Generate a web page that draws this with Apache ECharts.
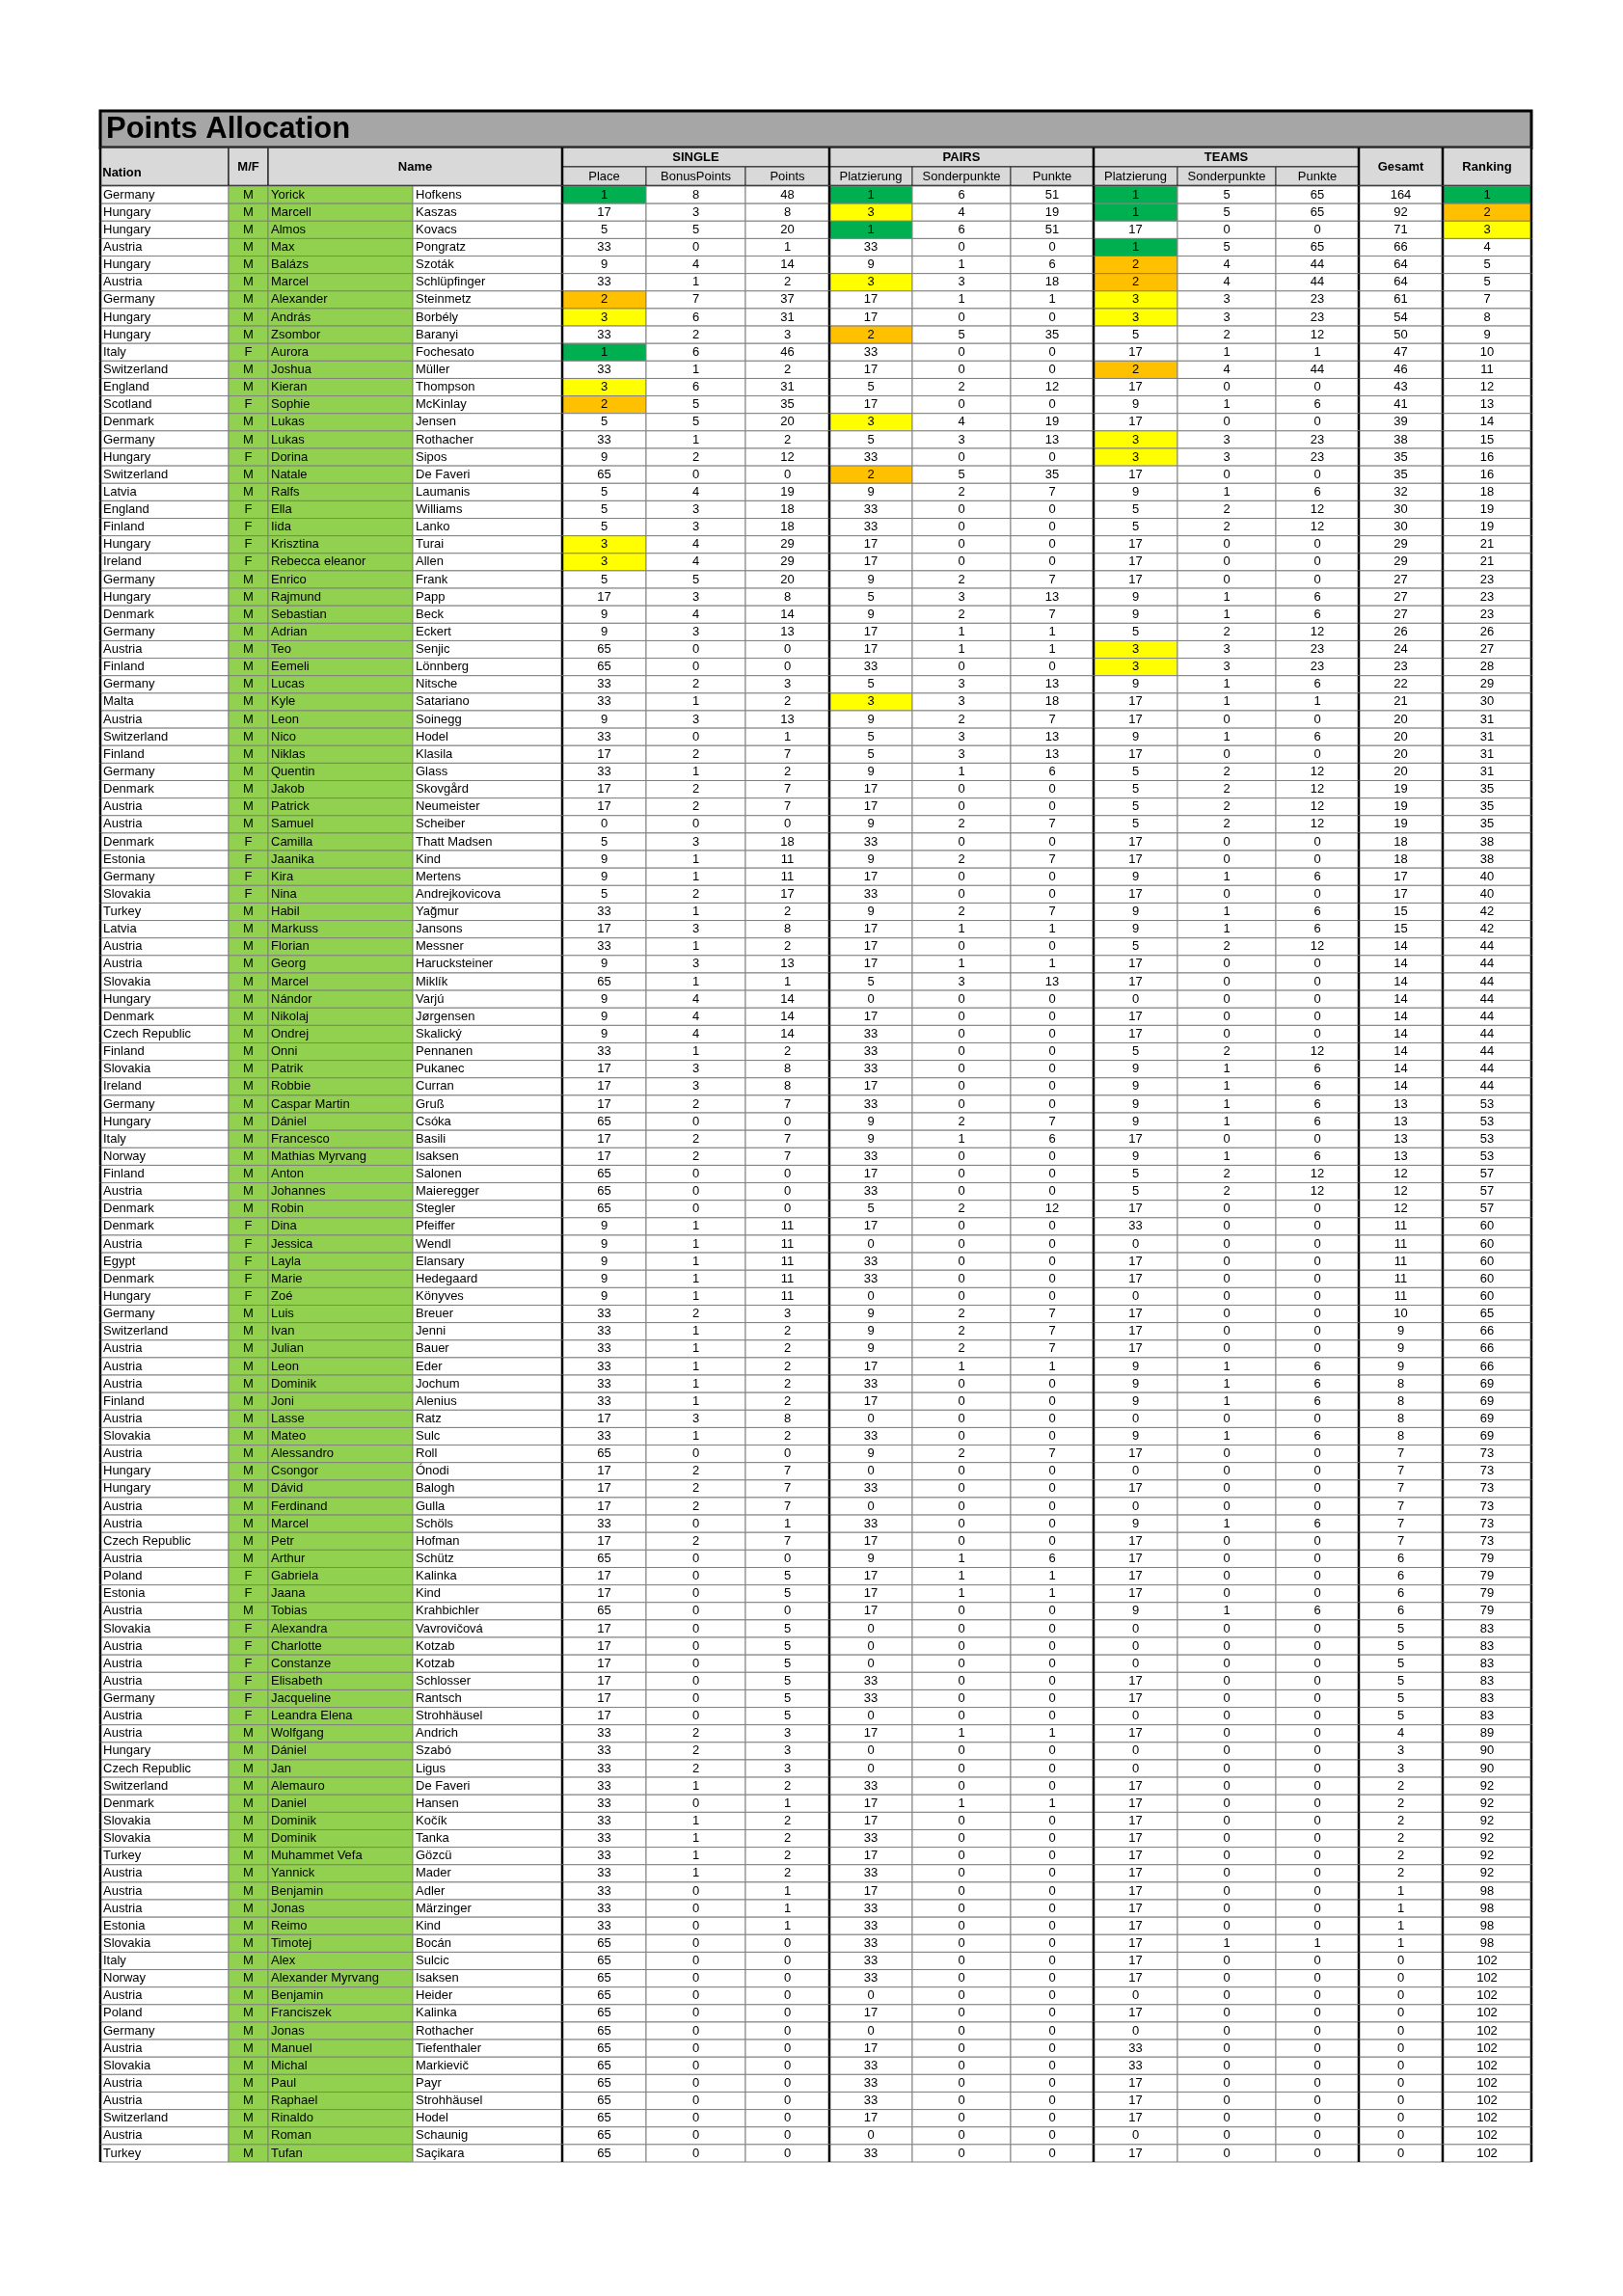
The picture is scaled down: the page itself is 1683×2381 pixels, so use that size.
<!DOCTYPE html>
<html>
<head>
<meta charset="utf-8">
<script src="https://cdn.jsdelivr.net/npm/echarts@6/dist/echarts.min.js"></script>
<style>
  html, body { margin: 0; padding: 0; background: #fff; }
  #chart { width: 1683px; height: 2381px; }
</style>
</head>
<body>
<div id="chart"></div>
<script>
// ---- data ----
var nations = ["Germany","Hungary","Hungary","Austria","Hungary","Austria","Germany","Hungary","Hungary","Italy",
  "Switzerland","England","Scotland","Denmark","Germany","Hungary","Switzerland","Latvia","England","Finland",
  "Hungary","Ireland","Germany","Hungary","Denmark","Germany","Austria","Finland","Germany","Malta",
  "Austria","Switzerland","Finland","Germany","Denmark","Austria","Austria","Denmark","Estonia","Germany",
  "Slovakia","Turkey","Latvia","Austria","Austria","Slovakia","Hungary","Denmark","Czech Republic","Finland",
  "Slovakia","Ireland","Germany","Hungary","Italy","Norway","Finland","Austria","Denmark","Denmark",
  "Austria","Egypt","Denmark","Hungary","Germany","Switzerland","Austria","Austria","Austria","Finland",
  "Austria","Slovakia","Austria","Hungary","Hungary","Austria","Austria","Czech Republic","Austria","Poland",
  "Estonia","Austria","Slovakia","Austria","Austria","Austria","Germany","Austria","Austria","Hungary",
  "Czech Republic","Switzerland","Denmark","Slovakia","Slovakia","Turkey","Austria","Austria","Austria","Estonia",
  "Slovakia","Italy","Norway","Austria","Poland","Germany","Austria","Slovakia","Austria","Austria",
  "Switzerland","Austria","Turkey"];
var sexes = ("MMMMMMMMMFMMFMMFMMFFFFMMMMMMMMMMMMMMMFFFFMMMMMMMMMMMMMMMMMMFFFFF" +
  "MMMMMMMMMMMMMMMFFMFFFFFFMMMMMMMMMMMMMMMMMMMMMMMMM").split("");
var firstNames = ["Yorick","Marcell","Almos","Max","Balázs","Marcel","Alexander","András","Zsombor","Aurora",
  "Joshua","Kieran","Sophie","Lukas","Lukas","Dorina","Natale","Ralfs","Ella","Iida",
  "Krisztina","Rebecca eleanor","Enrico","Rajmund","Sebastian","Adrian","Teo","Eemeli","Lucas","Kyle",
  "Leon","Nico","Niklas","Quentin","Jakob","Patrick","Samuel","Camilla","Jaanika","Kira",
  "Nina","Habil","Markuss","Florian","Georg","Marcel","Nándor","Nikolaj","Ondrej","Onni",
  "Patrik","Robbie","Caspar Martin","Dániel","Francesco","Mathias Myrvang","Anton","Johannes","Robin","Dina",
  "Jessica","Layla","Marie","Zoé","Luis","Ivan","Julian","Leon","Dominik","Joni",
  "Lasse","Mateo","Alessandro","Csongor","Dávid","Ferdinand","Marcel","Petr","Arthur","Gabriela",
  "Jaana","Tobias","Alexandra","Charlotte","Constanze","Elisabeth","Jacqueline","Leandra Elena","Wolfgang","Dániel",
  "Jan","Alemauro","Daniel","Dominik","Dominik","Muhammet Vefa","Yannick","Benjamin","Jonas","Reimo",
  "Timotej","Alex","Alexander Myrvang","Benjamin","Franciszek","Jonas","Manuel","Michal","Paul","Raphael",
  "Rinaldo","Roman","Tufan"];
var lastNames = ["Hofkens","Kaszas","Kovacs","Pongratz","Szoták","Schlüpfinger","Steinmetz","Borbély","Baranyi","Fochesato",
  "Müller","Thompson","McKinlay","Jensen","Rothacher","Sipos","De Faveri","Laumanis","Williams","Lanko",
  "Turai","Allen","Frank","Papp","Beck","Eckert","Senjic","Lönnberg","Nitsche","Satariano",
  "Soinegg","Hodel","Klasila","Glass","Skovgård","Neumeister","Scheiber","Thatt Madsen","Kind","Mertens",
  "Andrejkovicova","Yağmur","Jansons","Messner","Harucksteiner","Miklík","Varjú","Jørgensen","Skalický","Pennanen",
  "Pukanec","Curran","Gruß","Csóka","Basili","Isaksen","Salonen","Maieregger","Stegler","Pfeiffer",
  "Wendl","Elansary","Hedegaard","Könyves","Breuer","Jenni","Bauer","Eder","Jochum","Alenius",
  "Ratz","Sulc","Roll","Ónodi","Balogh","Gulla","Schöls","Hofman","Schütz","Kalinka",
  "Kind","Krahbichler","Vavrovičová","Kotzab","Kotzab","Schlosser","Rantsch","Strohhäusel","Andrich","Szabó",
  "Ligus","De Faveri","Hansen","Kočík","Tanka","Gözcü","Mader","Adler","Märzinger","Kind",
  "Bocán","Sulcic","Isaksen","Heider","Kalinka","Rothacher","Tiefenthaler","Markievič","Payr","Strohhäusel",
  "Hodel","Schaunig","Saçikara"];

var singlePlace = [1,17,5,33,9,33,2,3,33,1, 33,3,2,5,33,9,65,5,5,5, 3,3,5,17,9,9,65,65,33,33,
  9,33,17,33,17,17,0,5,9,9, 5,33,17,33,9,65,9,9,9,33, 17,17,17,65,17,17,65,65,65,9,
  9,9,9,9,33,33,33,33,33,33, 17,33,65,17,17,17,33,17,65,17, 17,65,17,17,17,17,17,17,33,33,
  33,33,33,33,33,33,33,33,33,33, 65,65,65,65,65,65,65,65,65,65, 65,65,65];
var singleBonus = [8,3,5,0,4,1,7,6,2,6, 1,6,5,5,1,2,0,4,3,3, 4,4,5,3,4,3,0,0,2,1,
  3,0,2,1,2,2,0,3,1,1, 2,1,3,1,3,1,4,4,4,1, 3,3,2,0,2,2,0,0,0,1,
  1,1,1,1,2,1,1,1,1,1, 3,1,0,2,2,2,0,2,0,0, 0,0,0,0,0,0,0,0,2,2,
  2,1,0,1,1,1,1,0,0,0, 0,0,0,0,0,0,0,0,0,0, 0,0,0];
var singlePoints = [48,8,20,1,14,2,37,31,3,46, 2,31,35,20,2,12,0,19,18,18, 29,29,20,8,14,13,0,0,3,2,
  13,1,7,2,7,7,0,18,11,11, 17,2,8,2,13,1,14,14,14,2, 8,8,7,0,7,7,0,0,0,11,
  11,11,11,11,3,2,2,2,2,2, 8,2,0,7,7,7,1,7,0,5, 5,0,5,5,5,5,5,5,3,3,
  3,2,1,2,2,2,2,1,1,1, 0,0,0,0,0,0,0,0,0,0, 0,0,0];
var pairsPlace = [1,3,1,33,9,3,17,17,2,33, 17,5,17,3,5,33,2,9,33,33, 17,17,9,5,9,17,17,33,5,3,
  9,5,5,9,17,17,9,33,9,17, 33,9,17,17,17,5,0,17,33,33, 33,17,33,9,9,33,17,33,5,17,
  0,33,33,0,9,9,9,17,33,17, 0,33,9,0,33,0,33,17,9,17, 17,17,0,0,0,33,33,0,17,0,
  0,33,17,17,33,17,33,17,33,33, 33,33,33,0,17,0,17,33,33,33, 17,0,33];
var pairsBonus = [6,4,6,0,1,3,1,0,5,0, 0,2,0,4,3,0,5,2,0,0, 0,0,2,3,2,1,1,0,3,3,
  2,3,3,1,0,0,2,0,2,0, 0,2,1,0,1,3,0,0,0,0, 0,0,0,2,1,0,0,0,2,0,
  0,0,0,0,2,2,2,1,0,0, 0,0,2,0,0,0,0,0,1,1, 1,0,0,0,0,0,0,0,1,0,
  0,0,1,0,0,0,0,0,0,0, 0,0,0,0,0,0,0,0,0,0, 0,0,0];
var pairsPoints = [51,19,51,0,6,18,1,0,35,0, 0,12,0,19,13,0,35,7,0,0, 0,0,7,13,7,1,1,0,13,18,
  7,13,13,6,0,0,7,0,7,0, 0,7,1,0,1,13,0,0,0,0, 0,0,0,7,6,0,0,0,12,0,
  0,0,0,0,7,7,7,1,0,0, 0,0,7,0,0,0,0,0,6,1, 1,0,0,0,0,0,0,0,1,0,
  0,0,1,0,0,0,0,0,0,0, 0,0,0,0,0,0,0,0,0,0, 0,0,0];
var teamsPlace = [1,1,17,1,2,2,3,3,5,17, 2,17,9,17,3,3,17,9,5,5, 17,17,17,9,9,5,3,3,9,17,
  17,9,17,5,5,5,5,17,17,9, 17,9,9,5,17,17,0,17,17,5, 9,9,9,9,17,9,5,5,17,33,
  0,17,17,0,17,17,17,9,9,9, 0,9,17,0,17,0,9,17,17,17, 17,9,0,0,0,17,17,0,17,0,
  0,17,17,17,17,17,17,17,17,17, 17,17,17,0,17,0,33,33,17,17, 17,0,17];
var teamsBonus = [5,5,0,5,4,4,3,3,2,1, 4,0,1,0,3,3,0,1,2,2, 0,0,0,1,1,2,3,3,1,1,
  0,1,0,2,2,2,2,0,0,1, 0,1,1,2,0,0,0,0,0,2, 1,1,1,1,0,1,2,2,0,0,
  0,0,0,0,0,0,0,1,1,1, 0,1,0,0,0,0,1,0,0,0, 0,1,0,0,0,0,0,0,0,0,
  0,0,0,0,0,0,0,0,0,0, 1,0,0,0,0,0,0,0,0,0, 0,0,0];
var teamsPoints = [65,65,0,65,44,44,23,23,12,1, 44,0,6,0,23,23,0,6,12,12, 0,0,0,6,6,12,23,23,6,1,
  0,6,0,12,12,12,12,0,0,6, 0,6,6,12,0,0,0,0,0,12, 6,6,6,6,0,6,12,12,0,0,
  0,0,0,0,0,0,0,6,6,6, 0,6,0,0,0,0,6,0,0,0, 0,6,0,0,0,0,0,0,0,0,
  0,0,0,0,0,0,0,0,0,0, 1,0,0,0,0,0,0,0,0,0, 0,0,0];
var totals = [164,92,71,66,64,64,61,54,50,47, 46,43,41,39,38,35,35,32,30,30, 29,29,27,27,27,26,24,23,22,21,
  20,20,20,20,19,19,19,18,18,17, 17,15,15,14,14,14,14,14,14,14, 14,14,13,13,13,13,12,12,12,11,
  11,11,11,11,10,9,9,9,8,8, 8,8,7,7,7,7,7,7,6,6, 6,6,5,5,5,5,5,5,4,3,
  3,2,2,2,2,2,2,1,1,1, 1,0,0,0,0,0,0,0,0,0, 0,0,0];
var ranking = [1,2,3,4,5,5,7,8,9,10, 11,12,13,14,15,16,16,18,19,19, 21,21,23,23,23,26,27,28,29,30,
  31,31,31,31,35,35,35,38,38,40, 40,42,42,44,44,44,44,44,44,44, 44,44,53,53,53,53,57,57,57,60,
  60,60,60,60,65,66,66,66,69,69, 69,69,73,73,73,73,73,73,79,79, 79,79,83,83,83,83,83,83,89,90,
  90,92,92,92,92,92,92,98,98,98, 98,102,102,102,102,102,102,102,102,102, 102,102,102];

// ---- layout ----
var LEFT = 104, TOP = 193, WIDTH = 1484, HEIGHT = 2049;
var edges = [0, 133, 174, 324, 479, 566, 669, 756, 842, 944, 1030, 1117, 1219, 1305, 1392, 1484];
var thickEdges = [0, 479, 756, 1030, 1305, 1392, 1484];
var FONT = '"Liberation Sans", Arial, sans-serif';
var placeColors = { 1: '#00b050', 2: '#ffc000', 3: '#ffff00' };

function rankFill(v) { return placeColors[v] || '#ffffff'; }
function plain() { return '#ffffff'; }
function green() { return '#92d050'; }

var columns = [
  { data: nations, align: 'left', fill: plain },
  { data: sexes, align: 'center', fill: green },
  { data: firstNames, align: 'left', fill: green },
  { data: lastNames, align: 'left', fill: plain },
  { data: singlePlace, align: 'center', fill: rankFill },
  { data: singleBonus, align: 'center', fill: plain },
  { data: singlePoints, align: 'center', fill: plain },
  { data: pairsPlace, align: 'center', fill: rankFill },
  { data: pairsBonus, align: 'center', fill: plain },
  { data: pairsPoints, align: 'center', fill: plain },
  { data: teamsPlace, align: 'center', fill: rankFill },
  { data: teamsBonus, align: 'center', fill: plain },
  { data: teamsPoints, align: 'center', fill: plain },
  { data: totals, align: 'center', fill: plain },
  { data: ranking, align: 'center', fill: rankFill }
];

var rowIdx = nations.map(function (n, i) { return [0, i]; });

function renderRow(params, api) {
  var r = api.value(1);
  var c = api.coord([0, r]);
  var h = api.size([0, 1])[1];
  var y0 = c[1] - h / 2;
  var kids = [];
  columns.forEach(function (col, k) {
    var x0 = api.coord([edges[k], r])[0];
    var x1 = api.coord([edges[k + 1], r])[0];
    var v = col.data[r];
    kids.push({
      type: 'rect',
      shape: { x: x0, y: y0, width: x1 - x0, height: h },
      style: { fill: col.fill(v), stroke: '#808080', lineWidth: 1 }
    });
    kids.push({
      type: 'text',
      style: {
        text: String(v),
        x: col.align === 'left' ? x0 + 3 : (x0 + x1) / 2,
        y: c[1],
        align: col.align, verticalAlign: 'middle',
        font: '13px ' + FONT, fill: '#000'
      }
    });
  });
  thickEdges.forEach(function (e) {
    var x = api.coord([e, r])[0];
    kids.push({
      type: 'line',
      shape: { x1: x, y1: y0, x2: x, y2: y0 + h },
      style: { stroke: '#000', lineWidth: 2.5 }
    });
  });
  return { type: 'group', children: kids };
}

// header cells (layout only)
function hcell(x0, x1, y0, y1, text, opts) {
  opts = opts || {};
  return {
    type: 'rect',
    shape: { x: LEFT + x0, y: y0, width: x1 - x0, height: y1 - y0 },
    style: { fill: opts.fill || '#d9d9d9', stroke: '#333', lineWidth: opts.lw || 1.5 },
    textContent: {
      style: {
        text: text,
        font: (opts.bold === false ? '' : 'bold ') + (opts.size || 13) + 'px ' + FONT,
        fill: '#000'
      }
    },
    textConfig: { position: opts.pos || 'inside' }
  };
}

var H0 = 153, H1 = 173, H2 = 193;
var graphics = [
  {
    type: 'rect',
    shape: { x: LEFT, y: 115, width: WIDTH, height: H0 - 115 },
    style: { fill: '#a6a6a6', stroke: '#000', lineWidth: 3 }
  },
  {
    type: 'text',
    style: { text: 'Points Allocation', x: LEFT + 6, y: 134, verticalAlign: 'middle',
      font: 'bold 31px ' + FONT, fill: '#000' }
  },
  hcell(0, 133, H0, H2, 'Nation', { pos: ['3', '50%'] }),
  hcell(133, 174, H0, H2, 'M/F'),
  hcell(174, 479, H0, H2, 'Name'),
  hcell(479, 756, H0, H1, 'SINGLE'),
  hcell(756, 1030, H0, H1, 'PAIRS'),
  hcell(1030, 1305, H0, H1, 'TEAMS'),
  hcell(1305, 1392, H0, H2, 'Gesamt'),
  hcell(1392, 1484, H0, H2, 'Ranking')
];
['Place', 'BonusPoints', 'Points', 'Platzierung', 'Sonderpunkte', 'Punkte',
 'Platzierung', 'Sonderpunkte', 'Punkte'].forEach(function (t, i) {
  graphics.push(hcell(edges[4 + i], edges[5 + i], H1, H2, t, { bold: false, lw: 1 }));
});
// section outlines in header
[0, 479, 756, 1030, 1305, 1392, 1484].forEach(function (e) {
  graphics.push({ type: 'line', shape: { x1: LEFT + e, y1: H0, x2: LEFT + e, y2: H2 },
    style: { stroke: '#000', lineWidth: 2.5 } });
});
graphics.push({ type: 'line', shape: { x1: LEFT, y1: H2, x2: LEFT + WIDTH, y2: H2 },
  style: { stroke: '#000', lineWidth: 2.5 } });

var chart = echarts.init(document.getElementById('chart'), null, { renderer: 'canvas' });
chart.setOption({
  backgroundColor: '#ffffff',
  animation: false,
  grid: { left: LEFT, top: TOP, width: WIDTH, height: HEIGHT },
  xAxis: { type: 'value', min: 0, max: 1484, show: false },
  yAxis: { type: 'category', inverse: true, show: false,
    data: nations.map(function (n, i) { return i; }) },
  series: [{
    type: 'custom',
    renderItem: renderRow,
    encode: { x: 0, y: 1 },
    data: rowIdx,
    z: 2
  }],
  graphic: { elements: graphics }
});
</script>
</body>
</html>
